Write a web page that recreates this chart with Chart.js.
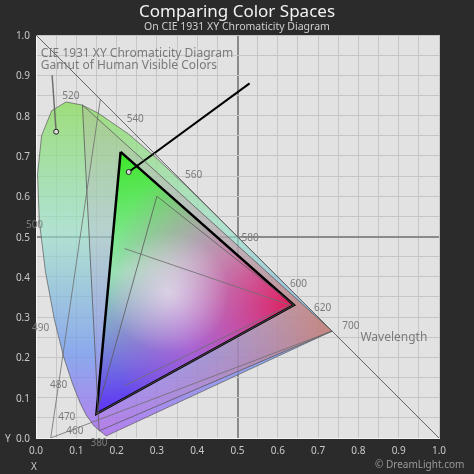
<!DOCTYPE html>
<html><head><meta charset="utf-8">
<script src="https://cdn.jsdelivr.net/npm/chart.js@4"></script>
<style>html,body{margin:0;background:#2b2b2b}#wrap{width:474px;height:474px}</style>
</head><body><div id="wrap"><canvas id="c" width="474" height="474"></canvas></div>
<script>
// Spectral locus (CIE 1931)
const locusX = [0.1741,0.1440,0.1241,0.1096,0.0913,0.0687,0.0454,0.0235,0.0082,0.0039,0.0139,0.0389,0.0743,0.1142,0.1547,0.2296,0.3016,0.3731,0.4441,0.5125,0.5752,0.6270,0.6915,0.7190,0.7347];
const locusY = [0.0050,0.0297,0.0578,0.0868,0.1327,0.2007,0.2950,0.4127,0.5384,0.6548,0.7502,0.8120,0.8338,0.8262,0.8059,0.7543,0.6923,0.6245,0.5547,0.4866,0.4242,0.3725,0.3083,0.2809,0.2653];

// Gamut triangles
const adobeX = [0.21,0.64,0.15,0.21], adobeY = [0.71,0.33,0.06,0.71];
const srgbX = [0.30,0.64,0.15,0.30], srgbY = [0.60,0.33,0.06,0.60];
const wideX = [0.1152,0.7347,0.1566,0.1152], wideY = [0.8264,0.2653,0.0177,0.8264];
const proX = [0.1596,0.7347,0.0366,0.1596], proY = [0.8404,0.2653,0.0001,0.8404];
const cmykX = [0.22,0.63,0.22], cmykY = [0.13,0.33,0.47];
const diagX = [0,1], diagY = [1,0];
const pointerX = [0.23,0.53], pointerY = [0.66,0.88];
const pointer2X = [0.05,0.04], pointer2Y = [0.76,0.90];

// Wavelength labels
const waveLabels = ['520','540','560','580','600','620','700','500','490','480','470','460','380'];
const waveX = [0.065,0.225,0.37,0.51,0.63,0.69,0.76,-0.025,-0.01,0.035,0.055,0.075,0.135];
const waveY = [0.84,0.785,0.645,0.49,0.375,0.315,0.27,0.52,0.265,0.125,0.045,0.01,-0.02];

const tickVals = [0,0.1,0.2,0.3,0.4,0.5,0.6,0.7,0.8,0.9,1.0];

function pts(xs, ys) { return xs.map((x, i) => ({x: x, y: ys[i]})); }

function poly(ctx, xs, ys, sx, sy) {
    ctx.beginPath();
    xs.forEach((x, i) => {
        const px = sx.getPixelForValue(x), py = sy.getPixelForValue(ys[i]);
        if (i === 0) ctx.moveTo(px, py); else ctx.lineTo(px, py);
    });
    ctx.closePath();
}

const plotBg = {
    id: 'plotbg',
    beforeDraw(c) {
        const a = c.chartArea, ctx = c.ctx;
        ctx.save(); ctx.fillStyle = '#e2e2e2'; ctx.fillRect(a.left, a.top, a.right - a.left, a.bottom - a.top); ctx.restore();
    }
};

const decor = {
    id: 'decor',
    beforeDatasetsDraw(chart) {
        const ctx = chart.ctx, sx = chart.scales.x, sy = chart.scales.y;
        const X = v => sx.getPixelForValue(v), Y = v => sy.getPixelForValue(v);
        ctx.save();
        // human visible gamut
        let g = ctx.createLinearGradient(0, Y(0.85), 0, Y(0));
        g.addColorStop(0, 'rgba(140,220,90,0.8)');
        g.addColorStop(0.4, 'rgba(150,225,200,0.65)');
        g.addColorStop(0.75, 'rgba(110,150,240,0.75)');
        g.addColorStop(1, 'rgba(170,100,240,0.8)');
        ctx.fillStyle = g;
        poly(ctx, locusX, locusY, sx, sy); ctx.fill();
        // wide gamut reddish
        g = ctx.createLinearGradient(X(0.25), 0, X(0.74), 0);
        g.addColorStop(0, 'rgba(210,120,200,0.15)');
        g.addColorStop(1, 'rgba(215,120,90,0.75)');
        ctx.fillStyle = g;
        poly(ctx, wideX, wideY, sx, sy); ctx.fill();
        // adobe vivid
        const cx = X(0.33), cy = Y(0.36);
        g = ctx.createLinearGradient(X(0.21), Y(0.71), X(0.30), Y(0.06));
        g.addColorStop(0, 'rgb(60,230,40)');
        g.addColorStop(0.45, 'rgb(150,230,180)');
        g.addColorStop(1, 'rgb(90,40,250)');
        ctx.fillStyle = g;
        poly(ctx, adobeX, adobeY, sx, sy); ctx.fill();
        let r = ctx.createRadialGradient(X(0.64), Y(0.33), 0, X(0.64), Y(0.33), 190);
        r.addColorStop(0, 'rgba(230,20,80,0.95)');
        r.addColorStop(0.6, 'rgba(230,80,200,0.45)');
        r.addColorStop(1, 'rgba(230,80,200,0)');
        ctx.fillStyle = r;
        poly(ctx, adobeX, adobeY, sx, sy); ctx.fill();
        r = ctx.createRadialGradient(cx, cy, 0, cx, cy, 60);
        r.addColorStop(0, 'rgba(255,255,255,0.55)');
        r.addColorStop(1, 'rgba(255,255,255,0)');
        ctx.fillStyle = r;
        poly(ctx, adobeX, adobeY, sx, sy); ctx.fill();
        ctx.restore();
    },
    afterDraw(chart) {
        const ctx = chart.ctx, sx = chart.scales.x, sy = chart.scales.y;
        const X = v => sx.getPixelForValue(v), Y = v => sy.getPixelForValue(v);
        ctx.save();
        ctx.fillStyle = '#f2f2f2';
        ctx.textAlign = 'center';
        ctx.font = '17px "Noto Sans"';
        ctx.fillText('Comparing Color Spaces', 237, 17);
        ctx.fillStyle = '#cfcfcf';
        ctx.font = '10.5px "Noto Sans"';
        ctx.fillText('On CIE 1931 XY Chromaticity Diagram', 237, 30);
        ctx.font = '10px "Noto Sans"';
        ctx.fillStyle = '#c8c8c8';
        tickVals.forEach(v => {
            ctx.textAlign = 'center';
            ctx.fillText(v.toFixed(1), X(v), 454);
            ctx.textAlign = 'right';
            ctx.fillText(v.toFixed(1), 30, Y(v) + 4);
        });
        ctx.textAlign = 'left';
        ctx.fillText('Y', 5, Y(0) + 4);
        ctx.fillText('X', 31, 470);
        ctx.fillStyle = '#9a9a9a';
        ctx.fillText('© DreamLight.com', 375, 468);
        ctx.fillStyle = '#7a7a7a';
        ctx.font = '12px "Noto Sans"';
        ctx.fillText('CIE 1931 XY Chromaticity Diagram', X(0.012), Y(0.945));
        ctx.fillText('Gamut of Human Visible Colors', X(0.012), Y(0.915));
        ctx.fillText('Wavelength', X(0.805), Y(0.24));
        ctx.font = '10px "Noto Sans"';
        waveLabels.forEach((t, i) => ctx.fillText(t, X(waveX[i]), Y(waveY[i])));
        // circles at pointer ends
        ctx.strokeStyle = '#222'; ctx.fillStyle = '#ddd'; ctx.lineWidth = 1;
        [[0.23,0.66],[0.05,0.76]].forEach(p => {
            ctx.beginPath(); ctx.arc(X(p[0]), Y(p[1]), 2.5, 0, Math.PI * 2); ctx.fill(); ctx.stroke();
        });
        ctx.restore();
    }
};

const ln = (xs, ys, color, w) => ({ data: pts(xs, ys), showLine: true, borderColor: color, borderWidth: w, pointRadius: 0, fill: false, tension: 0 });
const isHalf = c => c.tick && Math.abs(c.tick.value - 0.5) < 1e-6;

new Chart(document.getElementById('c'), {
    type: 'scatter',
    data: { datasets: [
        ln(locusX.concat([locusX[0]]), locusY.concat([locusY[0]]), 'rgba(90,90,90,0.7)', 1),
        ln(proX, proY, 'rgba(110,110,110,0.8)', 1),
        ln(wideX, wideY, 'rgba(90,90,90,0.8)', 1),
        ln(srgbX, srgbY, 'rgba(90,90,90,0.8)', 1),
        ln(cmykX, cmykY, 'rgba(110,110,110,0.8)', 1),
        ln(diagX, diagY, 'rgba(70,70,70,0.8)', 1),
        ln(pointer2X, pointer2Y, 'rgba(100,100,100,0.9)', 1.5),
        ln(adobeX, adobeY, '#000', 2.5),
        ln(pointerX, pointerY, '#000', 2)
    ]},
    plugins: [plotBg, decor],
    options: {
        animation: false, responsive: false,
        layout: { padding: { left: 36, top: 35, right: 35, bottom: 36 } },
        plugins: { legend: { display: false }, tooltip: { enabled: false } },
        scales: {
            x: { min: 0, max: 1, ticks: { display: false, stepSize: 0.05 },
                 grid: { color: c => isHalf(c) ? '#8a8a8a' : '#c6c6c6', lineWidth: c => isHalf(c) ? 2 : 1, drawTicks: false },
                 border: { color: '#f4f4f4' } },
            y: { min: 0, max: 1, ticks: { display: false, stepSize: 0.05 },
                 grid: { color: c => isHalf(c) ? '#8a8a8a' : '#c6c6c6', lineWidth: c => isHalf(c) ? 2 : 1, drawTicks: false },
                 border: { color: '#f4f4f4' } }
        }
    }
});
</script>
</body></html>
